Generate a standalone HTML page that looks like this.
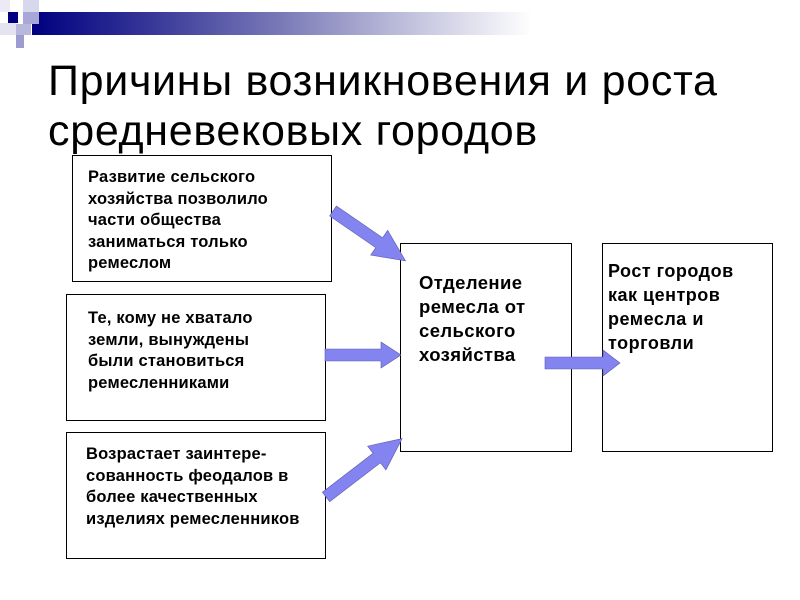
<!DOCTYPE html>
<html><head><meta charset="utf-8"><style>
body{margin:0;width:800px;height:600px;background:#fff;position:relative;overflow:hidden;font-family:"Liberation Sans",sans-serif}
.sq{position:absolute}
.box{position:absolute;border:1px solid #000;background:#fff;box-sizing:border-box}
.t{position:absolute;font-weight:bold;font-size:16.5px;line-height:21.5px;letter-spacing:0.2px;color:#000;white-space:nowrap}
.b{font-size:18.5px;line-height:24px;letter-spacing:0.4px}
h1{position:absolute;left:48px;top:56px;margin:0;font-weight:normal;font-size:43px;line-height:50px;letter-spacing:0.7px;color:#000;white-space:nowrap}
</style></head><body>
<div class="sq" style="left:32px;top:12px;width:500px;height:23px;background:linear-gradient(90deg,#000080 0%,#3a3a9a 25%,#7a7ab8 50%,#b8b8d8 72%,#fff 100%)"></div>
<div class="sq" style="left:0;top:0;width:10px;height:12px;background:#eceaf4"></div>
<div class="sq" style="left:23px;top:0;width:16px;height:12px;background:#d8d8ec"></div>
<div class="sq" style="left:8px;top:12px;width:10px;height:11px;background:#000080"></div>
<div class="sq" style="left:23px;top:12px;width:16px;height:12px;background:#a8a8d8"></div>
<div class="sq" style="left:0;top:23px;width:16px;height:12px;background:#e4e4f0"></div>
<div class="sq" style="left:16px;top:24px;width:15px;height:11px;background:#b8b8dc"></div>
<div class="sq" style="left:16px;top:35px;width:8px;height:13px;background:#9c9cd0"></div>
<h1>Причины возникновения и роста<br>средневековых городов</h1>
<div class="box" style="left:72px;top:155px;width:260px;height:127px"></div>
<div class="t" style="left:88px;top:167px">Развитие сельского<br>хозяйства позволило<br>части общества<br>заниматься только<br>ремеслом</div>
<div class="box" style="left:66px;top:294px;width:260px;height:127px"></div>
<div class="t" style="left:88px;top:308px">Те, кому не хватало<br>земли, вынуждены<br>были становиться<br>ремесленниками</div>
<div class="box" style="left:66px;top:432px;width:260px;height:127px"></div>
<div class="t" style="left:86px;top:444px">Возрастает заинтере-<br>сованность феодалов в<br>более качественных<br>изделиях ремесленников</div>
<div class="box" style="left:400px;top:243px;width:172px;height:209px"></div>
<div class="t b" style="left:419px;top:271px">Отделение<br>ремесла от<br>сельского<br>хозяйства</div>
<div class="box" style="left:602px;top:243px;width:171px;height:209px"></div>
<div class="t b" style="left:608px;top:259px;font-size:18px;letter-spacing:0.5px">Рост городов<br>как центров<br>ремесла и<br>торговли</div>
<svg width="800" height="600" style="position:absolute;left:0;top:0">
<g fill="#8484f0" stroke="#5a5ab0" stroke-width="0.6">
<polygon points="0,-6 56,-6 56,-15 88,0 56,15 56,6 0,6" transform="translate(333,211) rotate(34.5)"/>
<polygon points="0,-6 56,-6 56,-13 76,0 56,13 56,6 0,6" transform="translate(325,355)"/>
<polygon points="0,-6 64,-6 64,-15 96,0 64,15 64,6 0,6" transform="translate(326,497) rotate(-37.5)"/>
<polygon points="0,-6 58,-6 58,-13 75,0 58,13 58,6 0,6" transform="translate(545,363)"/>
</g></svg>
</body></html>
